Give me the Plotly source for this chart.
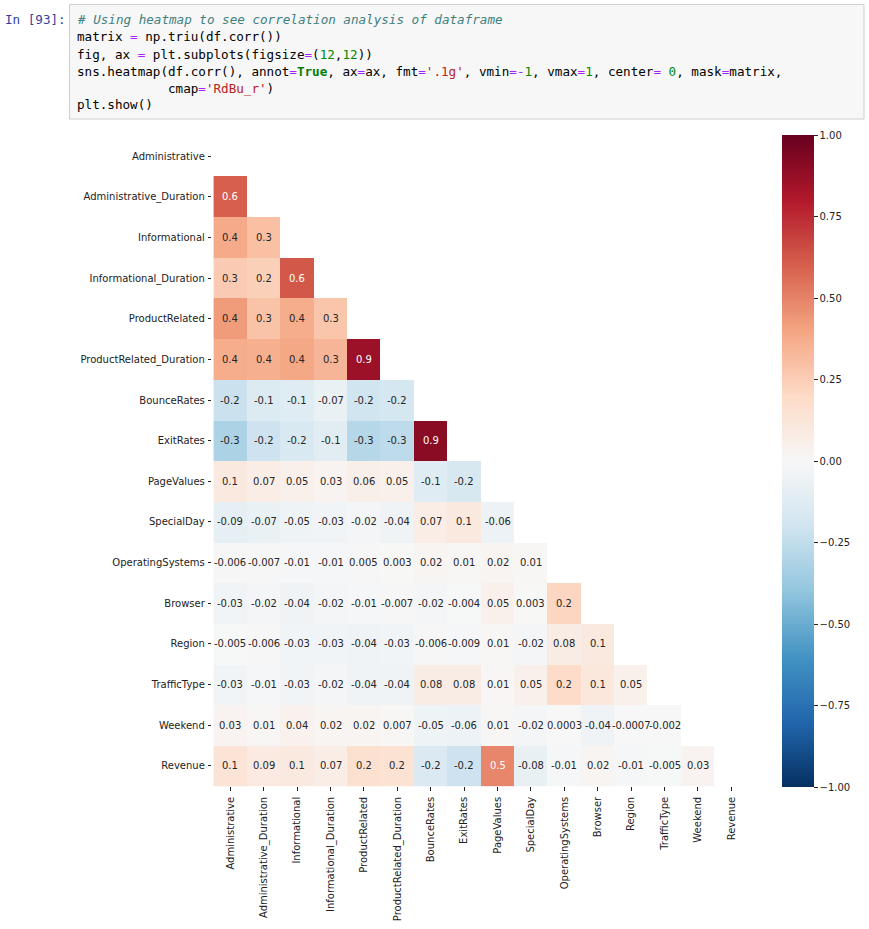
import plotly.graph_objects as go

# ---------------- data ----------------
labels = ["Administrative", "Administrative_Duration", "Informational",
          "Informational_Duration", "ProductRelated", "ProductRelated_Duration",
          "BounceRates", "ExitRates", "PageValues", "SpecialDay",
          "OperatingSystems", "Browser", "Region", "TrafficType", "Weekend", "Revenue"]

# lower-triangle correlation rows
row_administrative_duration = [0.60]
row_informational = [0.38, 0.30]
row_informational_duration = [0.26, 0.24, 0.62]
row_productrelated = [0.43, 0.29, 0.37, 0.28]
row_productrelated_duration = [0.37, 0.36, 0.39, 0.34, 0.86]
row_bouncerates = [-0.22, -0.14, -0.12, -0.07, -0.20, -0.18]
row_exitrates = [-0.32, -0.21, -0.16, -0.11, -0.29, -0.26, 0.91]
row_pagevalues = [0.10, 0.07, 0.05, 0.03, 0.06, 0.05, -0.12, -0.17]
row_specialday = [-0.09, -0.07, -0.05, -0.03, -0.02, -0.04, 0.07, 0.10, -0.06]
row_operatingsystems = [-0.006, -0.007, -0.01, -0.01, 0.005, 0.003, 0.02, 0.01, 0.02, 0.01]
row_browser = [-0.03, -0.02, -0.04, -0.02, -0.01, -0.007, -0.02, -0.004, 0.05, 0.003, 0.22]
row_region = [-0.005, -0.006, -0.03, -0.03, -0.04, -0.03, -0.006, -0.009, 0.01, -0.02, 0.08, 0.10]
row_traffictype = [-0.03, -0.01, -0.03, -0.02, -0.04, -0.04, 0.08, 0.08, 0.01, 0.05, 0.19, 0.11, 0.05]
row_weekend = [0.03, 0.01, 0.04, 0.02, 0.02, 0.007, -0.05, -0.06, 0.01, -0.02, 0.0003, -0.04, -0.0007, -0.002]
row_revenue = [0.14, 0.09, 0.10, 0.07, 0.16, 0.152, -0.152, -0.21, 0.49, -0.08, -0.01, 0.02, -0.01, -0.005, 0.03]

cbar_tickvals = [1.0, 0.75, 0.5, 0.25, 0.0, -0.25, -0.5, -0.75, -1.0]
cbar_ticktext = ["1.00", "0.75", "0.50", "0.25", "0.00", "\u22120.25", "\u22120.50", "\u22120.75", "\u22121.00"]

code_prompt = "In [93]:"

# ---------------- build matrix ----------------
rows = [[], row_administrative_duration, row_informational, row_informational_duration,
        row_productrelated, row_productrelated_duration, row_bouncerates, row_exitrates,
        row_pagevalues, row_specialday, row_operatingsystems, row_browser, row_region,
        row_traffictype, row_weekend, row_revenue]
n = len(labels)
z = [[None] * n for _ in range(n)]
for i, r in enumerate(rows):
    for j, v in enumerate(r):
        z[i][j] = v

rdbu = ["#053061", "#2166ac", "#4393c3", "#92c5de", "#d1e5f0", "#f7f7f7",
        "#fddbc7", "#f4a582", "#d6604d", "#b2182b", "#67001f"]
colorscale = [[k / 10, c] for k, c in enumerate(rdbu)]

W, H = 869, 929
def px(x):
    return x / W
def py(y):
    return 1 - y / H

left, right, top, bottom = 212.3, 748.0, 135.7, 786.3

fig = go.Figure()
fig.add_trace(go.Heatmap(
    z=z, x=labels, y=labels, zmin=-1, zmax=1, colorscale=colorscale,
    hoverongaps=False, xgap=0, ygap=0,
    colorbar=dict(
        x=px(782), xanchor="left", xpad=0, ypad=0,
        y=py(787), yanchor="bottom", lenmode="pixels", len=652,
        thickness=32, outlinewidth=0,
        tickmode="array", tickvals=cbar_tickvals, ticktext=cbar_ticktext,
        ticks="outside", ticklen=4, tickwidth=0.8, tickcolor="#222",
        tickfont=dict(family="DejaVu Sans", size=10, color="#222"),
    ),
))

annotations = []
for i in range(n):
    for j in range(n):
        v = z[i][j]
        if v is None:
            continue
        annotations.append(dict(
            x=labels[j], y=labels[i], xref="x", yref="y",
            text=format(v, ".1g"), showarrow=False,
            font=dict(family="DejaVu Sans", size=10,
                      color="#ffffff" if abs(v) >= 0.45 else "#262626"),
        ))

# ---------------- notebook code cell ----------------
OP = '<span style="color:#AA22FF">%s</span>'
NUM = '<span style="color:#008800">%s</span>'
STR = '<span style="color:#BA2121">%s</span>'
KW = '<span style="color:#008000"><b>%s</b></span>'
code_lines = [
    (75, '<span style="color:#408080"><i># Using heatmap to see correlation analysis of dataframe</i></span>'),
    (75, 'matrix ' + OP % '=' + ' np.triu(df.corr())'),
    (75, 'fig, ax ' + OP % '=' + ' plt.subplots(figsize' + OP % '=' + '(' + NUM % '12' + ',' + NUM % '12' + '))'),
    (75, 'sns.heatmap(df.corr(), annot' + OP % '=' + KW % 'True' + ', ax' + OP % '=' + 'ax, fmt'
         + OP % '=' + STR % "'.1g'" + ', vmin' + OP % '=' + OP % '-' + NUM % '1' + ', vmax' + OP % '='
         + NUM % '1' + ', center' + OP % '=' + ' ' + NUM % '0' + ', mask' + OP % '=' + 'matrix,'),
    (166, 'cmap' + OP % '=' + STR % "'RdBu_r'" + ')'),
    (75, 'plt.show()'),
]
line_y = [19.5, 36.8, 54.1, 71.4, 88.7, 104.5]
mono = "DejaVu Sans Mono"
for (x0, t), y0 in zip(code_lines, line_y):
    annotations.append(dict(
        x=px(x0), y=py(y0), xref="paper", yref="paper", xanchor="left", yanchor="middle",
        text=t, showarrow=False, font=dict(family=mono, size=12.6, color="#000000"),
    ))
annotations.append(dict(
    x=px(3), y=py(19.5), xref="paper", yref="paper", xanchor="left", yanchor="middle",
    text=code_prompt, showarrow=False, font=dict(family=mono, size=12.6, color="#303F9F"),
))

shapes = [dict(type="rect", xref="paper", yref="paper",
               x0=px(69.5), x1=px(864), y0=py(119), y1=py(4.5),
               fillcolor="#f7f7f7", line=dict(color="#cfcfcf", width=1), layer="below")]

axis_common = dict(
    type="category", showgrid=False, zeroline=False, showline=False,
    ticks="outside", ticklen=3.5, tickwidth=0.8, tickcolor="#222",
    tickfont=dict(family="DejaVu Sans", size=10, color="#222"),
)
fig.update_layout(
    width=W, height=H, margin=dict(l=0, r=0, t=0, b=0),
    paper_bgcolor="white", plot_bgcolor="white",
    xaxis=dict(domain=[px(left), px(right)], tickangle=-90, ticklabelstandoff=2, **axis_common),
    yaxis=dict(domain=[py(bottom), py(top)], autorange="reversed", ticklabelstandoff=1, **axis_common),
    annotations=annotations, shapes=shapes,
)

fig.write_html("out.html")
